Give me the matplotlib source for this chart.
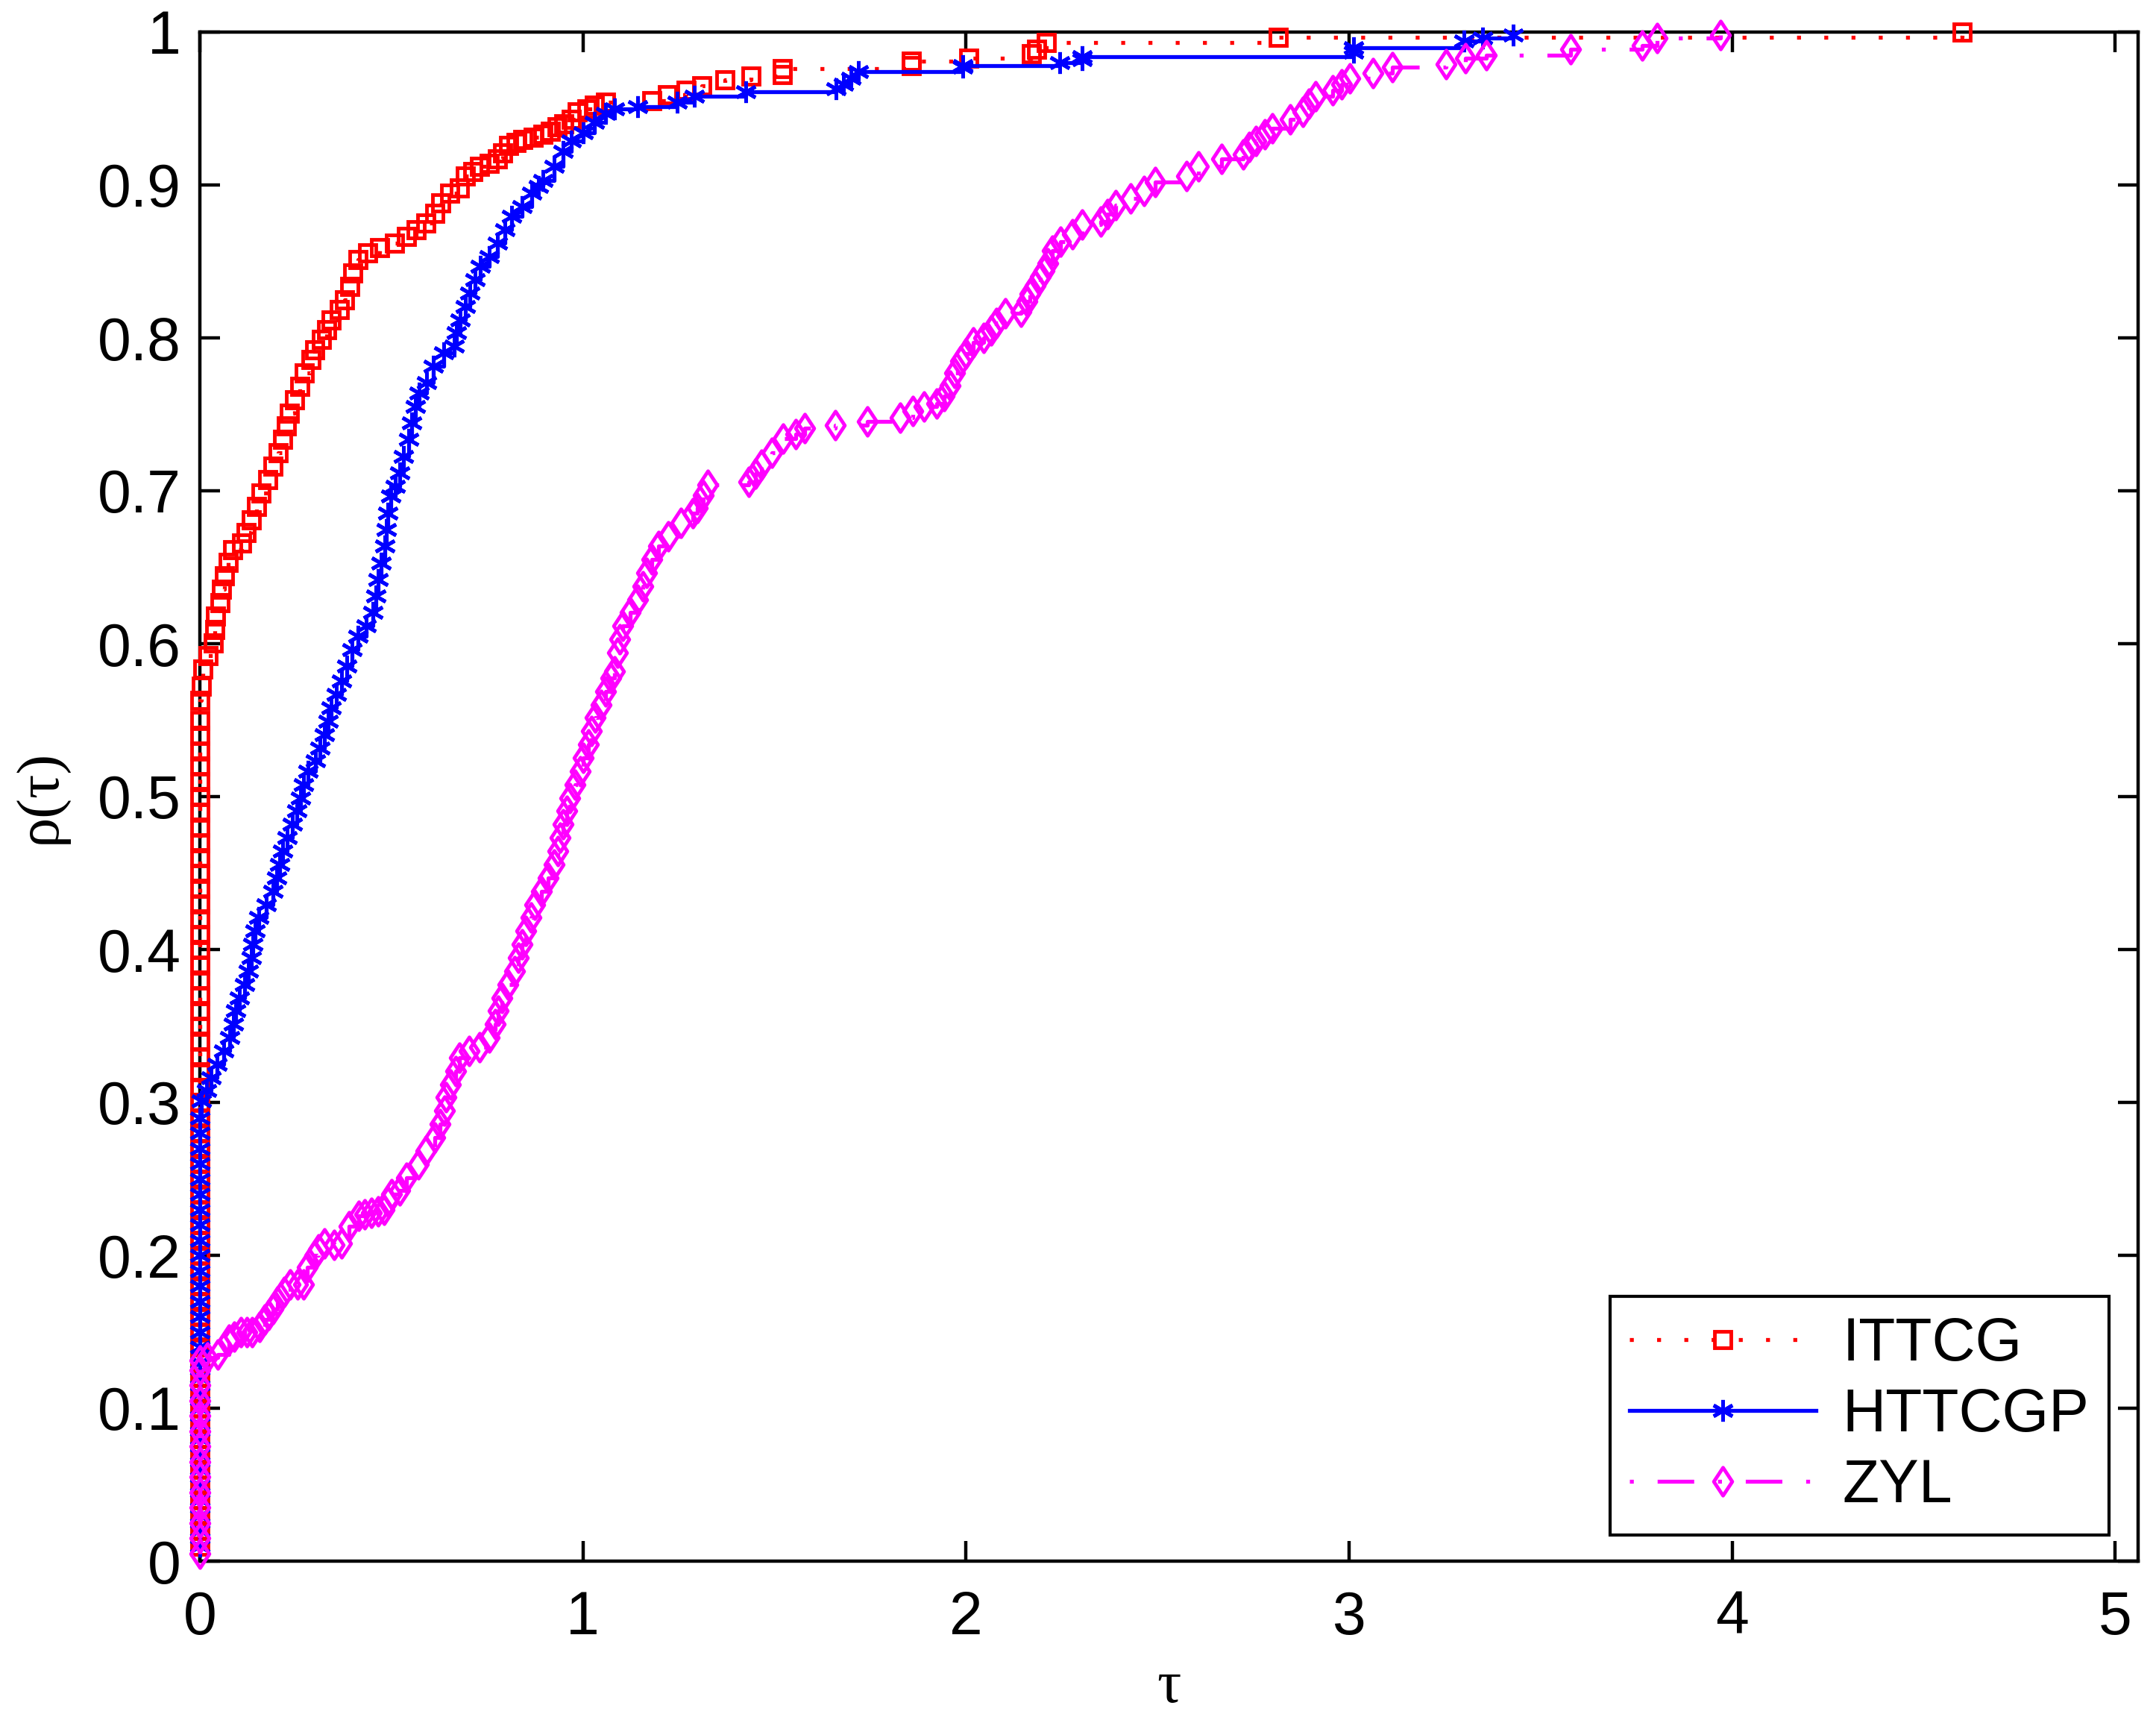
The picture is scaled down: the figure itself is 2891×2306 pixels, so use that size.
import numpy as np
import matplotlib
matplotlib.use('Agg')
import matplotlib.pyplot as plt
from matplotlib.path import Path
from matplotlib.markers import MarkerStyle

plt.rcParams['lines.scale_dashes'] = False
plt.rcParams['font.family'] = ['Liberation Sans', 'DejaVu Sans']

# ---------------- data ----------------
series_names = ['ITTCG', 'HTTCGP', 'ZYL']

# markers stacked at tau = 0 (problems on which the solver was best)
ITTCG_rho_at_zero = [0.01, 0.02, 0.03, 0.04, 0.05, 0.06, 0.07, 0.08, 0.09, 0.10,
                     0.11, 0.12, 0.13, 0.14, 0.15, 0.16, 0.17, 0.18, 0.19, 0.20,
                     0.21, 0.22, 0.23, 0.24, 0.25, 0.26, 0.27, 0.28, 0.29, 0.30,
                     0.31, 0.32, 0.33, 0.34, 0.35, 0.36, 0.37, 0.38, 0.39, 0.40,
                     0.41, 0.42, 0.43, 0.44, 0.45, 0.46, 0.47, 0.48, 0.49, 0.50,
                     0.51, 0.52, 0.53, 0.54, 0.55, 0.563]
ITTCG_tau = [0.004, 0.0085, 0.0214, 0.0345, 0.039, 0.041, 0.0518, 0.0562, 0.0649, 0.0736,
             0.0866, 0.1084, 0.1215, 0.1344, 0.1475, 0.1605, 0.178, 0.191, 0.204, 0.217,
             0.2258, 0.2344, 0.2473, 0.2605, 0.2735, 0.2908, 0.2996, 0.317, 0.33, 0.343,
             0.3648, 0.3777, 0.3908, 0.3995, 0.4125, 0.4386, 0.469, 0.508, 0.5385, 0.5645,
             0.5906, 0.6124, 0.6298, 0.6515, 0.677, 0.694, 0.712, 0.731, 0.755, 0.776,
             0.79, 0.806, 0.825, 0.843, 0.87, 0.896, 0.915, 0.933, 0.95, 0.97,
             0.985, 1.01, 1.03, 1.06, 1.18, 1.22, 1.27, 1.31, 1.37, 1.438,
             1.52, 1.52, 1.858, 1.858, 2.008, 2.17, 2.185, 2.21, 2.815, 4.60]
ITTCG_rho = [0.5724, 0.5833, 0.592, 0.6007, 0.6094, 0.618, 0.6268, 0.6355, 0.6442, 0.653,
             0.6617, 0.666, 0.6725, 0.6812, 0.69, 0.6987, 0.7074, 0.7161, 0.7248, 0.7335,
             0.7422, 0.7509, 0.7596, 0.7683, 0.777, 0.7858, 0.7923, 0.7988, 0.8054, 0.8119,
             0.8184, 0.825, 0.8337, 0.8424, 0.8511, 0.8555, 0.8588, 0.862, 0.8663, 0.8707,
             0.875, 0.8816, 0.8881, 0.8947, 0.898, 0.906, 0.909, 0.912, 0.914, 0.917,
             0.921, 0.926, 0.928, 0.93, 0.931, 0.933, 0.935, 0.938, 0.94, 0.943,
             0.948, 0.95, 0.952, 0.954, 0.955, 0.959, 0.962, 0.965, 0.969, 0.971,
             0.972, 0.976, 0.978, 0.981, 0.983, 0.986, 0.989, 0.993, 0.9966, 1.0]

HTTCGP_rho_at_zero = [0.01, 0.02, 0.03, 0.04, 0.05, 0.06, 0.07, 0.08, 0.09, 0.10,
                      0.11, 0.12, 0.13, 0.14, 0.15, 0.16, 0.17, 0.18, 0.19, 0.20,
                      0.21, 0.22, 0.23, 0.24, 0.25, 0.26, 0.27, 0.28, 0.29]
HTTCGP_tau = [0.004, 0.017, 0.030, 0.0448, 0.0623, 0.0779, 0.0884, 0.0934, 0.1039, 0.117,
              0.1257, 0.1344, 0.1388, 0.1431, 0.1544, 0.1735, 0.1908, 0.2013, 0.2083, 0.2153,
              0.2274, 0.2414, 0.2535, 0.2622, 0.2708, 0.2823, 0.3022, 0.3144, 0.3257, 0.3343,
              0.343, 0.356, 0.369, 0.3839, 0.397, 0.4125, 0.4341, 0.4516, 0.4604, 0.4647,
              0.4734, 0.482, 0.4865, 0.4906, 0.4993, 0.5108, 0.5211, 0.5315, 0.5447, 0.5533,
              0.562, 0.5733, 0.5924, 0.6098, 0.6358, 0.6646, 0.6706, 0.6794, 0.6924, 0.7055,
              0.7184, 0.7314, 0.7558, 0.7775, 0.7966, 0.814, 0.8402, 0.866, 0.8836, 0.896,
              0.925, 0.948, 0.97, 1.0, 1.03, 1.06, 1.082, 1.142, 1.246, 1.29,
              1.425, 1.66, 1.68, 1.70, 1.72, 1.992, 1.992, 2.245, 2.304, 2.304,
              3.011, 3.011, 3.30, 3.348, 3.428]
HTTCGP_rho = [0.301, 0.3076, 0.3163, 0.325, 0.3337, 0.3424, 0.3511, 0.3598, 0.3685, 0.3773,
              0.386, 0.3947, 0.4034, 0.4121, 0.4208, 0.4295, 0.4382, 0.4469, 0.4556, 0.4644,
              0.4731, 0.4818, 0.4905, 0.4992, 0.5079, 0.5166, 0.5232, 0.5319, 0.5406, 0.5493,
              0.558, 0.5667, 0.5754, 0.5854, 0.5963, 0.605, 0.6116, 0.6203, 0.6312, 0.642,
              0.6529, 0.6638, 0.6747, 0.6856, 0.6965, 0.703, 0.7118, 0.7226, 0.7335, 0.7444,
              0.7553, 0.764, 0.7705, 0.7814, 0.7901, 0.7945, 0.8032, 0.8119, 0.8206, 0.8293,
              0.838, 0.8468, 0.8533, 0.862, 0.8707, 0.8794, 0.8859, 0.8947, 0.899, 0.903,
              0.912, 0.922, 0.929, 0.934, 0.941, 0.947, 0.95, 0.951, 0.954, 0.958,
              0.961, 0.963, 0.966, 0.970, 0.974, 0.977, 0.978, 0.98, 0.982, 0.984,
              0.987, 0.99, 0.994, 0.996, 0.998]

ZYL_rho_at_zero = [0.005, 0.015, 0.025, 0.035, 0.045, 0.055, 0.065, 0.075, 0.085,
                   0.095, 0.105, 0.115, 0.125, 0.131]
ZYL_tau = [0.02, 0.047, 0.075, 0.09, 0.108, 0.122, 0.136, 0.155, 0.17, 0.18,
           0.19, 0.203, 0.22, 0.236, 0.255, 0.27, 0.281, 0.30, 0.31, 0.326,
           0.35, 0.37, 0.39, 0.415, 0.43, 0.448, 0.465, 0.48, 0.49, 0.50,
           0.5212, 0.5402, 0.5708, 0.5906, 0.6142, 0.6272, 0.6385, 0.6428, 0.6533, 0.6671,
           0.6775, 0.7037, 0.7298, 0.7558, 0.7705, 0.7792, 0.788, 0.8036, 0.821, 0.8314,
           0.8402, 0.8515, 0.8644, 0.8748, 0.8922, 0.9096, 0.9253, 0.934, 0.94, 0.9488,
           0.9574, 0.9661, 0.9792, 0.9922, 1.0006, 1.0138, 1.0226, 1.0313, 1.0469, 1.06,
           1.073, 1.0818, 1.0904, 1.097, 1.1034, 1.1225, 1.1425, 1.1556, 1.166, 1.179,
           1.1964, 1.2225, 1.2555, 1.2877, 1.298, 1.315, 1.326, 1.432, 1.45, 1.466,
           1.494, 1.522, 1.556, 1.579, 1.659, 1.743, 1.829, 1.862, 1.89, 1.923,
           1.943, 1.958, 1.97, 1.985, 2.0, 2.018, 2.046, 2.065, 2.08, 2.102,
           2.144, 2.16, 2.167, 2.18, 2.195, 2.204, 2.213, 2.226, 2.247, 2.278,
           2.303, 2.352, 2.37, 2.39, 2.43, 2.464, 2.494, 2.576, 2.606, 2.667,
           2.723, 2.74, 2.756, 2.78, 2.80, 2.846, 2.879, 2.895, 2.912, 2.957,
           2.98, 3.002, 3.063, 3.113, 3.253, 3.303, 3.359, 3.579, 3.766, 3.805,
           3.97]
ZYL_rho = [0.133, 0.135, 0.145, 0.147, 0.15, 0.15, 0.15, 0.153, 0.158, 0.161,
           0.165, 0.17, 0.176, 0.181, 0.181, 0.181, 0.192, 0.20, 0.204, 0.208,
           0.207, 0.208, 0.219, 0.226, 0.227, 0.228, 0.229, 0.23, 0.235, 0.24,
           0.2422, 0.2509, 0.2597, 0.2684, 0.2771, 0.2858, 0.2945, 0.3032, 0.3119, 0.3206,
           0.3293, 0.3337, 0.3359, 0.3424, 0.3511, 0.3598, 0.3685, 0.3773, 0.386, 0.3947,
           0.4034, 0.4121, 0.4208, 0.4295, 0.4382, 0.4469, 0.4556, 0.4644, 0.4731, 0.4818,
           0.4905, 0.4992, 0.5079, 0.5166, 0.5254, 0.534, 0.5428, 0.5515, 0.5602, 0.5689,
           0.5776, 0.582, 0.5941, 0.603, 0.6116, 0.6203, 0.629, 0.6377, 0.6464, 0.6551,
           0.6638, 0.6704, 0.6791, 0.6856, 0.689, 0.697, 0.704, 0.706, 0.711, 0.717,
           0.725, 0.734, 0.737, 0.741, 0.743, 0.7456, 0.748, 0.752, 0.755, 0.757,
           0.762, 0.769, 0.777, 0.785, 0.79, 0.797, 0.80, 0.805, 0.81, 0.816,
           0.817, 0.824, 0.829, 0.834, 0.84, 0.844, 0.849, 0.857, 0.863, 0.868,
           0.874, 0.876, 0.881, 0.887, 0.891, 0.896, 0.902, 0.906, 0.912, 0.917,
           0.92, 0.925, 0.929, 0.933, 0.937, 0.943, 0.948, 0.953, 0.958, 0.962,
           0.966, 0.97, 0.973, 0.977, 0.979, 0.983, 0.985, 0.989, 0.991, 0.996,
           0.998]

x_ticks = [0, 1, 2, 3, 4, 5]
x_tick_labels = ['0', '1', '2', '3', '4', '5']
y_ticks = [0, 0.1, 0.2, 0.3, 0.4, 0.5, 0.6, 0.7, 0.8, 0.9, 1.0]
y_tick_labels = ['0', '0.1', '0.2', '0.3', '0.4', '0.5', '0.6', '0.7', '0.8', '0.9', '1']
x_max = 5.06

# ---------------- figure ----------------
W, H = 2891, 2306
fig = plt.figure(figsize=(W / 100, H / 100), dpi=100)
ax = fig.add_axes([268 / W, (H - 2093) / H, 2599 / W, 2050 / H])

FS = 58
LW = 3.8
MEW = 3.5

diamond = MarkerStyle(Path([(0, 1), (0.66, 0), (0, -1), (-0.66, 0), (0, 1)],
                           [Path.MOVETO, Path.LINETO, Path.LINETO, Path.LINETO, Path.CLOSEPOLY]),
                      joinstyle='miter')

styles = [
    dict(color=(1, 0, 0), linestyle=(0, (3.8, 22.5)), marker='s', markersize=15.5),
    dict(color=(0, 0, 1), linestyle='-', marker=(6, 2, 0), markersize=21),
    dict(color=(1, 0, 1), linestyle=(0, (3.8, 23.0, 35.3, 23.0)), marker=diamond, markersize=27),
]

data = [
    (ITTCG_rho_at_zero, ITTCG_tau, ITTCG_rho),
    (HTTCGP_rho_at_zero, HTTCGP_tau, HTTCGP_rho),
    (ZYL_rho_at_zero, ZYL_tau, ZYL_rho),
]

for name, (rz, t, r), st in zip(series_names, data, styles):
    tau = np.concatenate([np.zeros(len(rz)), np.asarray(t, float)])
    rho = np.concatenate([np.asarray(rz, float), np.asarray(r, float)])
    ax.plot(tau, rho, drawstyle='steps-post', linewidth=LW,
            markerfacecolor='none', markeredgewidth=MEW, clip_on=False,
            zorder=3, label=name, **st)

ax.set_xlim(0, x_max)
ax.set_ylim(0, 1)
ax.set_xticks(x_ticks)
ax.set_xticklabels(x_tick_labels)
ax.set_yticks(y_ticks)
ax.set_yticklabels(y_tick_labels)

for sp in ax.spines.values():
    sp.set_linewidth(3.2)
    sp.set_zorder(2)
ax.tick_params(direction='in', top=True, right=True, length=19.5, width=3.2,
               labelsize=FS)
ax.tick_params(axis='x', pad=28)
ax.tick_params(axis='y', pad=18)

ax.set_xlabel('τ', fontsize=FS, family=['Liberation Serif', 'DejaVu Serif'], va='baseline')
ax.xaxis.set_label_coords(0.5, -0.092)
ax.set_ylabel('ρ(τ)', fontsize=FS, family=['Liberation Serif', 'DejaVu Serif'], va='baseline')
ax.yaxis.set_label_coords(-0.0746, 0.5)

leg = ax.legend(loc='lower right', bbox_to_anchor=(0.985, 0.0171), borderaxespad=0,
                fontsize=FS, handlelength=3.1, handletextpad=0.44, borderpad=0.33,
                labelspacing=0.24, fancybox=False, framealpha=1, edgecolor='black')
leg.get_frame().set_linewidth(3.0)

fig.savefig('out.png', dpi=100, facecolor='white')
